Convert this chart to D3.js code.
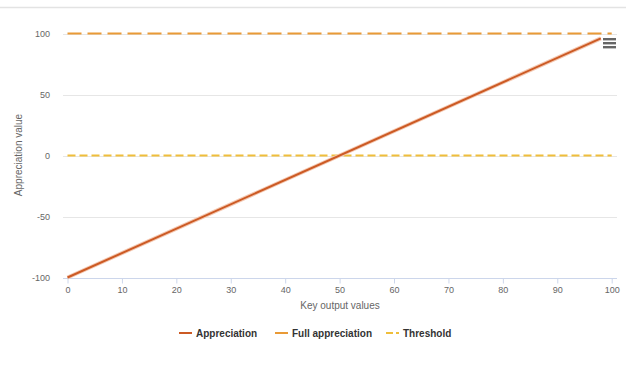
<!DOCTYPE html>
<html>
<head>
<meta charset="utf-8">
<script src="https://cdn.jsdelivr.net/npm/d3@7"></script>
<style>
  body { margin: 0; background: #fff; }
  svg { font-family: "Lucida Grande", "Liberation Sans", Arial, sans-serif; }
</style>
</head>
<body>
<div id="chart"></div>
<script>
/* chart data */
var xTicks = [0, 10, 20, 30, 40, 50, 60, 70, 80, 90, 100];
var yTicks = [-100, -50, 0, 50, 100];
var appreciationX = [0, 98];
var appreciationY = [-100, 96];
var fullX = [0, 100];
var fullY = [100, 100];
var thresholdX = [0, 100];
var thresholdY = [0, 0];
var seriesNames = ['Appreciation', 'Full appreciation', 'Threshold'];

var width = 626, height = 372;
var plotLeft = 63, plotRight = 617;

var svg = d3.select('#chart').append('svg')
  .attr('width', width)
  .attr('height', height);

// thin border line at top
svg.append('line')
  .attr('x1', 0).attr('x2', width)
  .attr('y1', 7.5).attr('y2', 7.5)
  .attr('stroke', '#e3e3e3').attr('stroke-width', 1.5);

var x = d3.scaleLinear().domain([0, 100]).range([67.5, 611.7]);
var y = d3.scaleLinear().domain([-100, 100]).range([277.5, 33.5]);

// grid lines
svg.append('g').selectAll('line')
  .data(yTicks.filter(function(d) { return d !== -100; }))
  .enter().append('line')
  .attr('x1', plotLeft).attr('x2', plotRight)
  .attr('y1', function(d) { return Math.round(y(d)) + 0.5; })
  .attr('y2', function(d) { return Math.round(y(d)) + 0.5; })
  .attr('stroke', '#e6e6e6');

// y axis labels
svg.append('g').selectAll('text')
  .data(yTicks).enter().append('text')
  .attr('x', 50)
  .attr('y', function(d) { return y(d) + 3.5; })
  .attr('text-anchor', 'end')
  .attr('font-size', 9)
  .attr('fill', '#666')
  .text(function(d) { return d; });

// x axis
var xAxis = d3.axisBottom(x).tickValues(xTicks).tickSize(5).tickPadding(3);
var gx = svg.append('g')
  .attr('transform', 'translate(0,' + (Math.round(y(-100)) + 0.5) + ')')
  .call(xAxis);
gx.select('.domain').remove();
gx.insert('line', ':first-child')
  .attr('x1', plotLeft).attr('x2', plotRight)
  .attr('stroke', '#ccd6eb');
gx.selectAll('.tick line').attr('stroke', '#ccd6eb');
gx.selectAll('.tick text')
  .attr('font-size', 9)
  .attr('fill', '#666')
  .attr('font-family', '"Lucida Grande", "Liberation Sans", Arial, sans-serif');

// axis titles
svg.append('text')
  .attr('x', 340).attr('y', 309)
  .attr('text-anchor', 'middle')
  .attr('font-size', 10)
  .attr('fill', '#666')
  .text('Key output values');

svg.append('text')
  .attr('transform', 'translate(22,155) rotate(-90)')
  .attr('text-anchor', 'middle')
  .attr('font-size', 10)
  .attr('fill', '#666')
  .text('Appreciation value');

var line = d3.line()
  .x(function(d) { return x(d[0]); })
  .y(function(d) { return y(d[1]); });

function zipXY(xs, ys) {
  return xs.map(function(v, i) { return [v, ys[i]]; });
}

// full appreciation
svg.append('path')
  .datum(zipXY(fullX, fullY))
  .attr('d', line)
  .attr('fill', 'none')
  .attr('stroke', '#e99a36')
  .attr('stroke-width', 1.8)
  .attr('stroke-dasharray', '14,6');

// threshold
svg.append('path')
  .datum(zipXY(thresholdX, thresholdY))
  .attr('d', line)
  .attr('fill', 'none')
  .attr('stroke', '#efbe3b')
  .attr('stroke-width', 2)
  .attr('stroke-dasharray', '8,4');

// appreciation
svg.append('path')
  .datum(zipXY(appreciationX, appreciationY))
  .attr('d', line)
  .attr('fill', 'none')
  .attr('stroke', '#f4c9b3')
  .attr('stroke-width', 4);
svg.append('path')
  .datum(zipXY(appreciationX, appreciationY))
  .attr('d', line)
  .attr('fill', 'none')
  .attr('stroke', '#cc5a24')
  .attr('stroke-width', 2);

// menu icon
var menu = svg.append('g').attr('transform', 'translate(603,38)');
[0, 4, 8].forEach(function(dy) {
  menu.append('rect')
    .attr('x', 0).attr('y', dy)
    .attr('width', 13).attr('height', 2.4)
    .attr('fill', '#666');
});

// legend
var legendItems = [
  { name: seriesNames[0], x: 179, color: '#cc5a24', dash: null },
  { name: seriesNames[1], x: 275, color: '#e99a36', dash: null },
  { name: seriesNames[2], x: 386, color: '#efbe3b', dash: '7,3' }
];
var lg = svg.append('g').selectAll('g')
  .data(legendItems).enter().append('g')
  .attr('transform', function(d) { return 'translate(' + d.x + ',333)'; });
lg.append('line')
  .attr('x1', 0).attr('x2', 13)
  .attr('stroke', function(d) { return d.color; })
  .attr('stroke-width', 2)
  .attr('stroke-dasharray', function(d) { return d.dash; });
lg.append('text')
  .attr('x', 17).attr('y', 4)
  .attr('font-size', 10)
  .attr('font-weight', 'bold')
  .attr('fill', '#333')
  .text(function(d) { return d.name; });
</script>
</body>
</html>
